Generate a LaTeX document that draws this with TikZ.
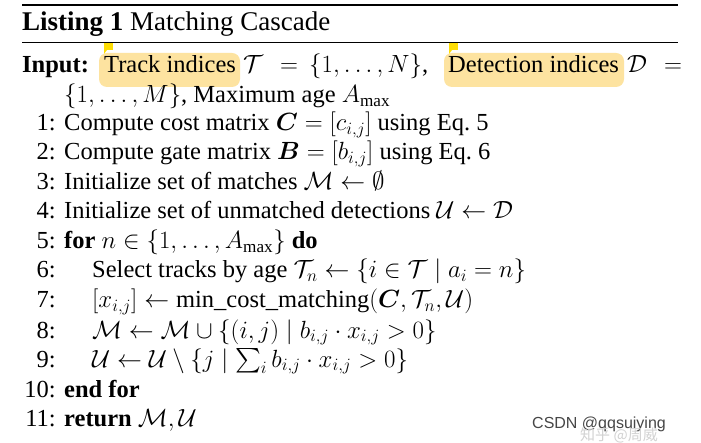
\documentclass[tikz,border=0pt]{standalone}
\usepackage{amsmath,amssymb}
\usepackage{fontspec}
\setmainfont{Liberation Serif}
\newfontfamily\wmfont{Liberation Sans}
\newfontfamily\cjkfont{Noto Sans CJK SC}
\begin{document}
\begin{tikzpicture}[x=1pt,y=-1pt,
  txt/.style={anchor=base west,inner sep=0pt,font=\fontsize{24.5}{28}\selectfont},
  num/.style={anchor=base east,inner sep=0pt,font=\fontsize{24.5}{28}\selectfont},
  hl/.style={fill=yellow!45!orange!35,rounded corners=8pt,draw=none},
  mk/.style={fill=yellow!80!orange,draw=none}]
\useasboundingbox (0,0) rectangle (701,443);
\fill[white] (0,0) rectangle (701,443);
\draw[line width=2.5pt] (22,5) -- (678,5);
\draw[line width=1pt] (22,43) -- (678,43);
\node[txt,font=\fontsize{27}{30}\selectfont] (title) at (22,31) {\textbf{Listing 1} Matching Cascade};
% highlights
\fill[hl] (99,53) rectangle (240,87);
\fill[hl] (444,53) rectangle (624,87);
\fill[mk] (104,43) rectangle (113,50);
\fill[mk] (104,50) -- (107,50) -- (104,54) -- cycle;
\fill[mk] (449,43) rectangle (458,50);
\fill[mk] (449,50) -- (452,50) -- (449,54) -- cycle;
\node[txt] (in) at (22,73) {\textbf{Input:}};
\node[txt] (tr) at (104,73) {Track\ indices};
\node[txt] (ts) at (243,73) {$\mathcal{T}$};
\node[txt] (te) at (280,73) {$=$};
\node[txt] (tset) at (309,73) {$\{1,\ldots,N\}$,};
\node[txt] (de) at (448,73) {Detection\ indices};
\node[txt] (ds) at (627,73) {$\mathcal{D}$};
\node[txt] (dq) at (664,73) {$=$};
\node[txt] (in2) at (64,103) {$\{1,\ldots,M\}$, Maximum age $A_{\max}$};
\foreach \i/\y in {1/131,2/160,3/190,4/219,5/249,6/278,7/308,8/338,9/367,10/397,11/426}{
  \node[num] (n\i) at (56,\y) {\i:};}
\node[txt] (l1) at (64,131) {Compute cost matrix $\boldsymbol{C}=[c_{i,j}]$ using Eq.~5};
\node[txt] (l2) at (64,160) {Compute gate matrix $\boldsymbol{B}=[b_{i,j}]$ using Eq.~6};
\node[txt] (l3) at (64,190) {Initialize set of matches $\mathcal{M}\leftarrow\emptyset$};
\node[txt] (l4) at (64,219) {Initialize set of unmatched detections $\mathcal{U}\leftarrow\mathcal{D}$};
\node[txt] (l5) at (64,249) {\textbf{for} $n\in\{1,\ldots,A_{\max}\}$ \textbf{do}};
\node[txt] (l6) at (92,278) {Select tracks by age $\mathcal{T}_n\leftarrow\{i\in\mathcal{T}\mid a_i=n\}$};
\node[txt] (l7) at (92,308) {$[x_{i,j}]\leftarrow\mathrm{min\_cost\_matching}(\boldsymbol{C},\mathcal{T}_n,\mathcal{U})$};
\node[txt] (l8) at (92,338) {$\mathcal{M}\leftarrow\mathcal{M}\cup\{(i,j)\mid b_{i,j}\cdot x_{i,j}>0\}$};
\node[txt] (l9) at (92,367) {$\mathcal{U}\leftarrow\mathcal{U}\setminus\{j\mid \textstyle\sum_i b_{i,j}\cdot x_{i,j}>0\}$};
\node[txt] (l10) at (64,397) {\textbf{end for}};
\node[txt] (l11) at (64,426) {\textbf{return} $\mathcal{M},\mathcal{U}$};
% watermarks
\node[anchor=base west,inner sep=0pt,text=gray!55!black,font=\wmfont\fontsize{16}{18}\selectfont] (wm1) at (532,428) {CSDN @qqsuiying};
\node[anchor=base west,inner sep=0pt,text=gray!35,font=\cjkfont\fontsize{15}{18}\selectfont] (wm2) at (580,440) {知乎 @周威};
\end{tikzpicture}
\end{document}
